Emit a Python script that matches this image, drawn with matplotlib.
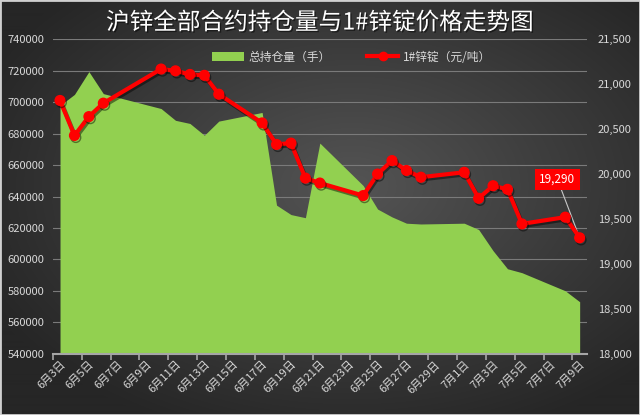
import numpy as np
import pandas as pd
import matplotlib
matplotlib.use("Agg")
import matplotlib.pyplot as plt
import matplotlib.dates as mdates
from matplotlib import patheffects as pe
from matplotlib.colors import LinearSegmentedColormap
from matplotlib.patches import Patch, Rectangle
from matplotlib.lines import Line2D
from matplotlib.ticker import FixedLocator, FuncFormatter

plt.rcParams['font.family'] = ['Noto Sans CJK SC', 'DejaVu Sans']

# trading days (2019)
trade_dates = ["2019-06-03", "2019-06-04", "2019-06-05", "2019-06-06",
               "2019-06-10", "2019-06-11", "2019-06-12", "2019-06-13", "2019-06-14",
               "2019-06-17", "2019-06-18", "2019-06-19", "2019-06-20", "2019-06-21",
               "2019-06-24", "2019-06-25", "2019-06-26", "2019-06-27", "2019-06-28",
               "2019-07-01", "2019-07-02", "2019-07-03", "2019-07-04", "2019-07-05",
               "2019-07-08", "2019-07-09"]

# total open interest (lots)
holdings = [698000, 705000, 719500, 705500,
            696000, 688500, 686500, 679000, 688000,
            693500, 634500, 628500, 626500, 674000,
            647000, 632000, 627000, 623000, 622500,
            623000, 619000, 605500, 594000, 591500,
            580000, 573000]

# 1# zinc ingot price (yuan/ton)
price = [20820, 20430, 20640, 20790,
         21170, 21150, 21110, 21100, 20890,
         20570, 20330, 20345, 19955, 19900,
         19760, 20000, 20150, 20040, 19965,
         20020, 19730, 19870, 19830, 19445,
         19520, 19290]

title = "沪锌全部合约持仓量与1#锌锭价格走势图"
area_label = "总持仓量（手）"
line_label = "1#锌锭（元/吨）"

dates = pd.to_datetime(trade_dates)
x = mdates.date2num(dates)

fig = plt.figure(figsize=(6.4, 4.15), dpi=100)

# background gradient
bg = fig.add_axes([0, 0, 1, 1], zorder=-10)
yy, xx = np.mgrid[0:1:415j, 0:1:640j]
r = np.sqrt(((xx - 0.55) / 0.75) ** 2 + ((yy - 0.55) / 0.75) ** 2)
cmap = LinearSegmentedColormap.from_list("bg", ["#545454", "#262626"])
bg.imshow(r, cmap=cmap, extent=[0, 1, 0, 1], aspect="auto", vmin=0, vmax=0.85, origin="lower")
bg.axis("off")
fig.patches.append(Rectangle((0, 0), 1, 1, transform=fig.transFigure,
                             fill=False, ec="#d0d0d0", lw=2))

ax = fig.add_axes([0.0825, 0.148, 0.8345, 0.757])
ax.set_facecolor("none")
ax.fill_between(x, holdings, 540000, color="#92d050", lw=0, zorder=2)
ax.set_ylim(540000, 740000)
ax.set_yticks(np.arange(540000, 740001, 20000))
ax.grid(axis="y", color="#7a7a7a", lw=0.8, zorder=0)
ax.set_axisbelow(True)
ax.set_xlim(x[0] - 0.5, x[-1] + 0.5)

label_pos = np.arange(x[0], x[-1] + 0.1, 2)
ax.xaxis.set_major_locator(FixedLocator(label_pos))
ax.xaxis.set_minor_locator(FixedLocator(label_pos - 0.5))
ax.xaxis.set_major_formatter(FuncFormatter(
    lambda v, p: "{}月{}日".format(mdates.num2date(v).month, mdates.num2date(v).day)))
ax.tick_params(axis="x", which="major", length=0, pad=4, labelsize=8, colors="#d9d9d9")
ax.tick_params(axis="x", which="minor", length=4, width=1.2, color="#a6a6a6")
for lab in ax.get_xticklabels():
    lab.set_rotation(45)
    lab.set_ha("right")
    lab.set_rotation_mode("anchor")
ax.tick_params(axis="y", length=0, pad=6, labelsize=8, colors="#d9d9d9")
for s in ["top", "left", "right"]:
    ax.spines[s].set_visible(False)
ax.spines["bottom"].set_color("#a6a6a6")
ax.spines["bottom"].set_linewidth(1.5)
ax.spines["bottom"].set_zorder(3)

ax2 = ax.twinx()
ax2.set_facecolor("none")
shadow = [pe.SimpleLineShadow(offset=(1, -1.5), shadow_color="black", alpha=0.45), pe.Normal()]
ax2.plot(x, price, color="#ff0000", lw=3, marker="o", ms=7, zorder=5, path_effects=shadow)
ax2.set_ylim(18000, 21500)
ax2.set_yticks(np.arange(18000, 21501, 500))
ax2.yaxis.set_major_formatter(FuncFormatter(lambda v, p: "{:,.0f}".format(v)))
ax2.tick_params(axis="y", length=0, pad=8, labelsize=8, colors="#d9d9d9")
for s in ["top", "left", "right", "bottom"]:
    ax2.spines[s].set_visible(False)

ax2.annotate("{:,}".format(price[-1]), xy=(x[-1], price[-1]), xytext=(-16, 42),
             textcoords="offset points", ha="center", va="center",
             color="white", fontsize=8.5,
             bbox=dict(boxstyle="square,pad=0.35", fc="#ff0000", ec="none"),
             arrowprops=dict(arrowstyle="-", color="#c8c8c8", lw=0.8,
                             shrinkA=0, shrinkB=3))

handles = [Patch(fc="#92d050", ec="none"),
           Line2D([], [], color="#ff0000", lw=3, marker="o", ms=6)]
ax2.legend(handles, [area_label, line_label], loc="center", bbox_to_anchor=(0.56, 0.944),
           ncol=2, frameon=False, fontsize=8.5, labelcolor="#d9d9d9",
           handlelength=2.7, handleheight=0.8, columnspacing=3.0, handletextpad=0.4)

fig.text(0.5, 1 - 23 / 415, title, ha="center", va="center", fontsize=17, color="white",
         path_effects=[pe.withSimplePatchShadow(offset=(1, -1), shadow_rgbFace="black", alpha=0.5)])

fig.savefig("out.png", dpi=100)
